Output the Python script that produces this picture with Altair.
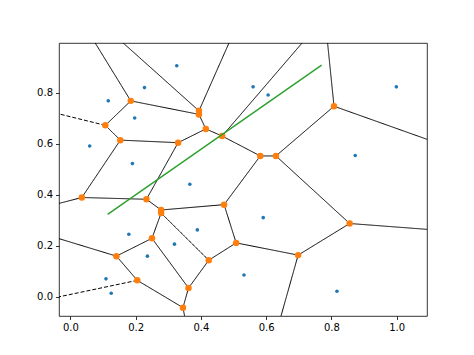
import altair as alt
import pandas as pd

# Input points (blue)
pts_x = [0.326, 0.227, 0.116, 0.197, 0.059, 0.190, 0.560, 0.606, 0.999, 0.873,
         0.179, 0.236, 0.319, 0.109, 0.125, 0.366, 0.591, 0.389, 0.532, 0.817]
pts_y = [0.907, 0.821, 0.769, 0.702, 0.592, 0.523, 0.824, 0.792, 0.824, 0.555,
         0.246, 0.160, 0.207, 0.071, 0.0145, 0.442, 0.311, 0.263, 0.086, 0.022]

# Voronoi vertices (orange)
vert_x = [0.185, 0.107, 0.153, 0.330, 0.394, 0.394, 0.415, 0.465, 0.582, 0.630,
          0.808, 0.035, 0.233, 0.278, 0.278, 0.250, 0.141, 0.205, 0.471, 0.508,
          0.424, 0.362, 0.345, 0.698, 0.856]
vert_y = [0.769, 0.673, 0.615, 0.605, 0.730, 0.716, 0.659, 0.631, 0.553, 0.553,
          0.748, 0.390, 0.383, 0.341, 0.329, 0.230, 0.160, 0.065, 0.362, 0.212,
          0.144, 0.035, -0.042, 0.164, 0.288]

# Finite ridges (vertex index pairs)
edge_a = [0, 0, 1, 2, 2, 4, 5, 6, 6, 3, 7, 8, 8, 9, 9, 24, 23, 19, 19, 18, 13, 13, 14, 14, 12, 15, 15, 16, 17, 21, 20]
edge_b = [1, 5, 2, 3, 11, 5, 6, 3, 7, 12, 8, 9, 18, 10, 24, 23, 19, 18, 20, 13, 14, 12, 15, 20, 11, 16, 21, 17, 22, 22, 21]

# Ridges leaving the view (vertex index, far end point, dashed = infinite ridge)
open_from = [0, 4, 4, 7, 10, 10, 24, 23, 22, 11, 16, 1, 17]
open_to_x = [0.026, 0.071, 0.522, 0.780, 0.780, 1.3, 1.3, 0.596, 0.384, -0.2, -0.2, -0.2, -0.2]
open_to_y = [1.1, 1.1, 1.1, 1.1, 1.1, 0.524, 0.245, -0.3, -0.3, 0.312, 0.293, 0.770, -0.044]
open_dashed = [False] * 11 + [True, True]

# Green line
fit_x = [0.114, 0.770]
fit_y = [0.324, 0.909]

rows = []
for a, b in zip(edge_a, edge_b):
    rows.append(dict(x=vert_x[a], y=vert_y[a], x2=vert_x[b], y2=vert_y[b], kind="solid"))
for v, tx, ty, d in zip(open_from, open_to_x, open_to_y, open_dashed):
    rows.append(dict(x=vert_x[v], y=vert_y[v], x2=tx, y2=ty, kind="dashed" if d else "solid"))
seg = pd.DataFrame(rows)
pts = pd.DataFrame(dict(x=pts_x, y=pts_y))
verts = pd.DataFrame(dict(x=vert_x, y=vert_y))
fit = pd.DataFrame(dict(x=fit_x, y=fit_y))

xs = alt.Scale(domain=[-0.035, 1.093], nice=False, zero=False)
ys = alt.Scale(domain=[-0.0748, 0.996], nice=False, zero=False)
ax_common = dict(grid=False, domain=False, tickColor="black", labelColor="black",
                 tickSize=3.5, labelFontSize=10, labelFont="DejaVu Sans",
                 format=".1f", title=None, labelPadding=3, tickWidth=0.8)
X = alt.X("x:Q", scale=xs, axis=alt.Axis(values=[0, 0.2, 0.4, 0.6, 0.8, 1.0], **ax_common))
Y = alt.Y("y:Q", scale=ys, axis=alt.Axis(values=[0, 0.2, 0.4, 0.6, 0.8], **ax_common))

edges = alt.Chart(seg).mark_rule(clip=True, color="black", strokeWidth=1).encode(
    x=X, y=Y, x2="x2:Q", y2="y2:Q",
    strokeDash=alt.StrokeDash("kind:N", scale=alt.Scale(domain=["solid", "dashed"], range=[[1, 0], [4, 2]]), legend=None),
)
blue = alt.Chart(pts).mark_circle(color="#1f77b4", opacity=1, size=13).encode(x=X, y=Y)
orange = alt.Chart(verts).mark_circle(color="#ff7f0e", opacity=1, size=42, clip=True).encode(x=X, y=Y)
green = alt.Chart(fit).mark_line(color="#2ca02c", strokeWidth=1.4).encode(x=X, y=Y)

chart = alt.layer(edges, blue, orange, green).properties(
    width=368, height=273,
    background="white",
    autosize=alt.AutoSizeParams(type="none"),
    padding={"left": 59, "top": 43, "right": 47, "bottom": 39},
).configure_view(stroke="black", strokeWidth=0.8, strokeOpacity=1)

chart.save("out.html", embed_options={"renderer": "svg", "actions": False})
